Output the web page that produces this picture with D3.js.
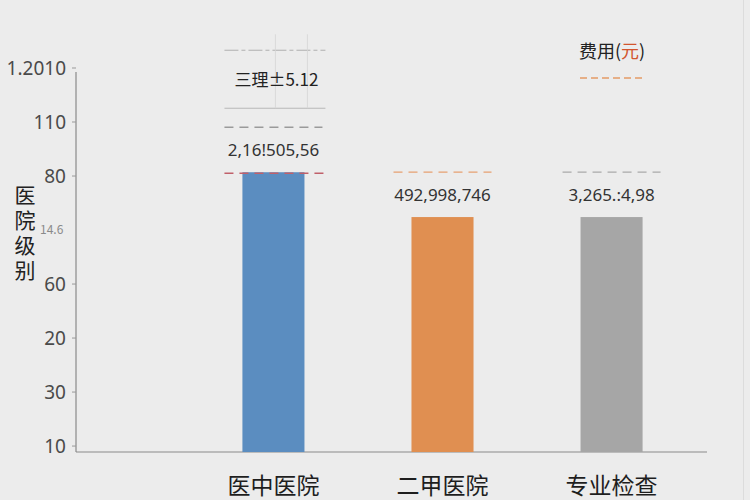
<!DOCTYPE html>
<html>
<head>
<meta charset="utf-8">
<script src="https://cdn.jsdelivr.net/npm/d3@7"></script>
<style>
  html, body { margin: 0; padding: 0; background: #ececec; }
  svg { display: block; font-family: "Noto Sans CJK SC", "Noto Sans", sans-serif; }
</style>
</head>
<body>
<div id="chart"></div>
<script>
// chart values
const categories = ["医中医院", "二甲医院", "专业检查"];
const barValues = [5.07, 4.24, 4.24]; // in tick-step units
const valueLabels = ["2,16!505,56", "492,998,746", "3,265.:4,98"];
const barColors = ["#5b8dc0", "#e08f51", "#a6a6a6"];
const labelLineColors = ["#9a9a9a", "#e6a070", "#a9a9a9"];
const tickLabels = ["10", "30", "20", "60", "", "80", "110", "1.2010"];
const minorTickLabel = "14.6";
const noteLabel = "三理±5.12";
const legendLabel = "费用(";
const legendUnit = "元";
const yTitle = "医院级别";

const width = 750, height = 500;
const margin = { top: 68, right: 43, bottom: 48, left: 76 };
const baseY = height - margin.bottom;

const svg = d3.select("#chart").append("svg")
  .attr("width", width).attr("height", height);

svg.append("rect").attr("width", width).attr("height", height).attr("fill", "#ececec");
svg.append("line").attr("x1", 743.5).attr("x2", 743.5).attr("y1", 0).attr("y2", height)
  .attr("stroke", "#dcdcdc");

const x = d3.scaleBand().domain(categories).range([189, 696])
  .paddingInner(0.633).paddingOuter(0.316);
const y = d3.scaleLinear().domain([-0.11, 7]).range([baseY, margin.top]);

// y axis
const yAxis = svg.append("g").attr("transform", `translate(${margin.left},0)`);
yAxis.append("line").attr("y1", margin.top + 4).attr("y2", baseY)
  .attr("stroke", "#8a8a8a").attr("stroke-width", 1.2);
tickLabels.forEach((t, i) => {
  if (!t) return;
  yAxis.append("line").attr("x1", -4).attr("x2", 0).attr("y1", y(i)).attr("y2", y(i))
    .attr("stroke", "#999");
  yAxis.append("text").attr("x", -10).attr("y", y(i)).attr("dy", "0.35em")
    .attr("text-anchor", "end").attr("font-size", 19).attr("fill", "#4a4a4a")
    .attr("font-family", "'Noto Sans', sans-serif")
    .text(t);
});
yAxis.append("text").attr("x", -36).attr("y", y(4)).attr("dy", "0.35em")
  .attr("text-anchor", "start").attr("font-size", 12).attr("fill", "#8a8a8a")
  .text(minorTickLabel);

// y axis title, one vertical text
svg.append("text")
  .attr("x", 25).attr("y", 235)
  .attr("writing-mode", "tb")
  .attr("text-anchor", "middle")
  .style("letter-spacing", "4px")
  .attr("font-size", 21).attr("fill", "#222")
  .text(yTitle);

// x axis
svg.append("line").attr("x1", margin.left).attr("x2", 707).attr("y1", baseY).attr("y2", baseY)
  .attr("stroke", "#8a8a8a").attr("stroke-width", 1.2);

// bars
svg.selectAll("rect.bar").data(categories).join("rect")
  .attr("class", "bar")
  .attr("x", d => x(d))
  .attr("y", (d, i) => y(barValues[i]))
  .attr("width", x.bandwidth())
  .attr("height", (d, i) => baseY - y(barValues[i]))
  .attr("fill", (d, i) => barColors[i]);

// category labels
svg.selectAll("text.cat").data(categories).join("text")
  .attr("class", "cat")
  .attr("x", d => x(d) + x.bandwidth() / 2)
  .attr("y", 494)
  .attr("text-anchor", "middle").attr("font-size", 23).attr("fill", "#1e1e1e")
  .text(d => d);

// dashed lines + value labels above bars
categories.forEach((c, i) => {
  const cx = x(c) + x.bandwidth() / 2;
  const top = y(barValues[i]);
  svg.append("line")
    .attr("x1", cx - 49).attr("x2", cx + 49)
    .attr("y1", top - 45).attr("y2", top - 45)
    .attr("stroke", labelLineColors[i]).attr("stroke-width", 1.3)
    .attr("stroke-dasharray", "9,6");
  svg.append("text").attr("x", cx).attr("y", top - 22).attr("dy", "0.35em")
    .attr("text-anchor", "middle").attr("font-size", 17).attr("fill", "#333")
    .attr("font-family", "'Noto Sans', sans-serif")
    .text(valueLabels[i]);
});

// extra annotation over the first bar
const c0 = x(categories[0]) + x.bandwidth() / 2;
const top0 = y(barValues[0]);
svg.append("line").attr("x1", c0 - 49).attr("x2", c0 + 52).attr("y1", top0 + 1).attr("y2", top0 + 1)
  .attr("stroke", "#c0606a").attr("stroke-width", 1.3).attr("stroke-dasharray", "9,6");
svg.append("line").attr("x1", c0 - 49).attr("x2", c0 + 52).attr("y1", top0 - 64).attr("y2", top0 - 64)
  .attr("stroke", "#b8b8b8").attr("stroke-width", 1);
svg.append("line").attr("x1", c0 - 49).attr("x2", c0 + 52).attr("y1", top0 - 122).attr("y2", top0 - 122)
  .attr("stroke", "#b0b0b0").attr("stroke-width", 1).attr("stroke-dasharray", "14,3,4,3");
[2, 34].forEach(dx => {
  svg.append("line").attr("x1", c0 + dx).attr("x2", c0 + dx).attr("y1", top0 - 138).attr("y2", top0 - 64)
    .attr("stroke", "#d6d6d6").attr("stroke-width", 0.8);
});
svg.append("text").attr("x", c0 + 3).attr("y", top0 - 92).attr("dy", "0.35em")
  .attr("text-anchor", "middle").attr("font-size", 17).attr("fill", "#222")
  .text(noteLabel);

// legend
const legend = svg.append("g").attr("transform", "translate(612,52)");
const lt = legend.append("text").attr("text-anchor", "middle").attr("dy", "0.35em")
  .attr("font-size", 18).attr("fill", "#222");
lt.append("tspan").text(legendLabel);
lt.append("tspan").attr("fill", "#d2552e").text(legendUnit);
lt.append("tspan").text(")");
legend.append("line").attr("x1", -32).attr("x2", 32).attr("y1", 26).attr("y2", 26)
  .attr("stroke", "#e39a66").attr("stroke-width", 1.3).attr("stroke-dasharray", "7,4");
</script>
</body>
</html>
